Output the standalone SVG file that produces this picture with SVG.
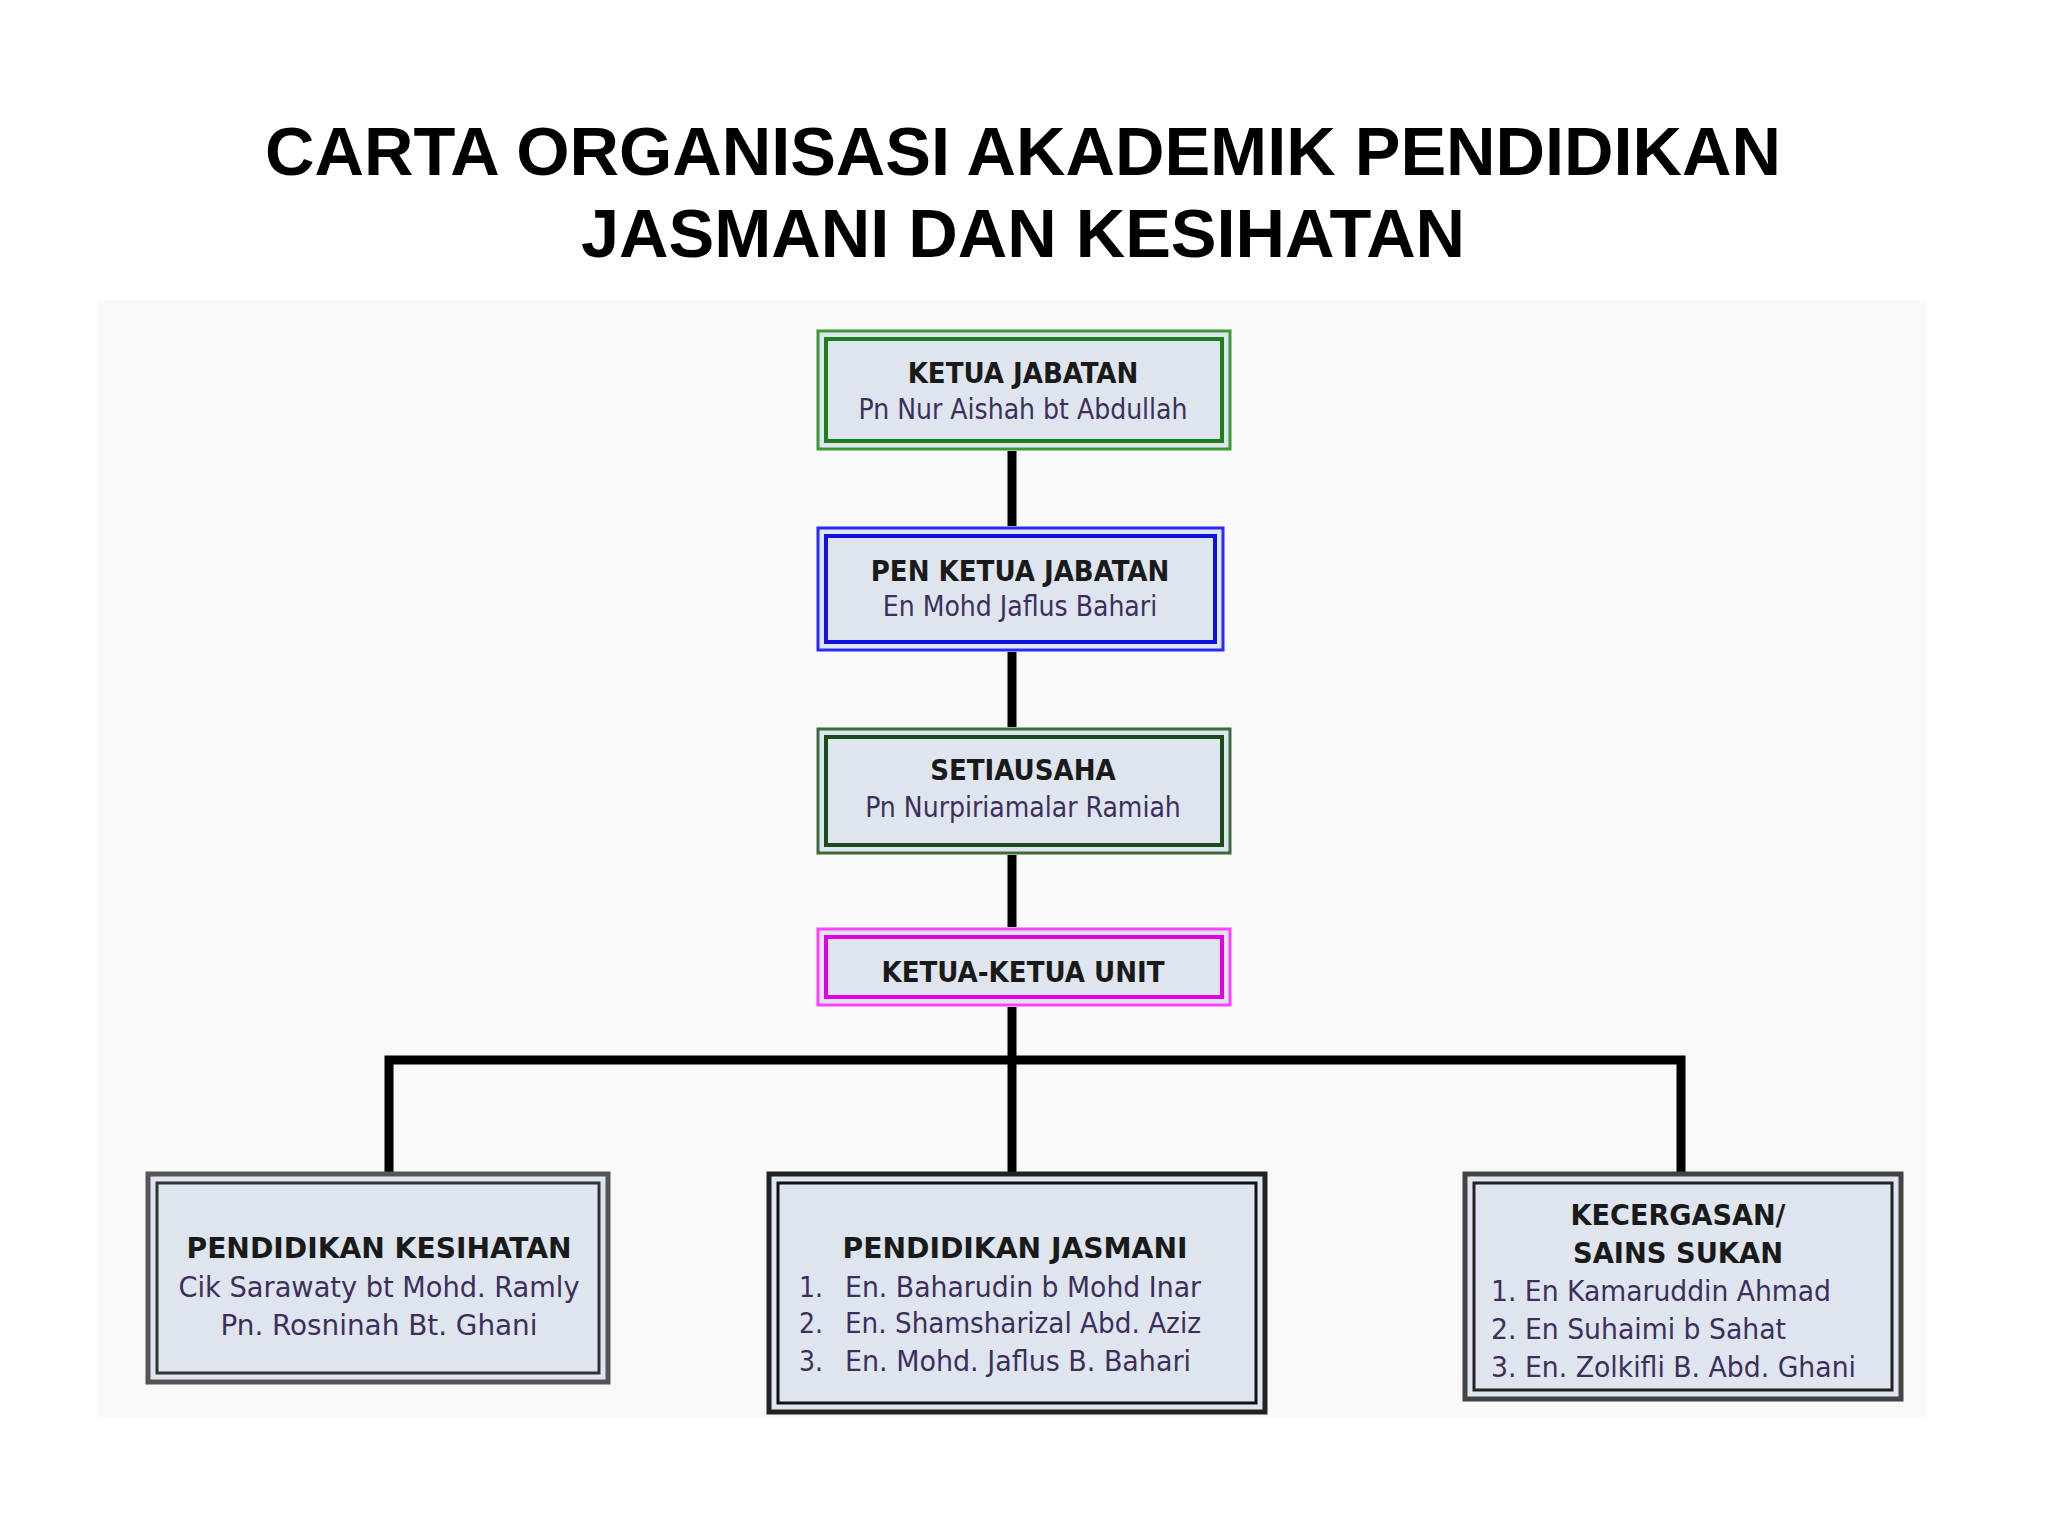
<svg xmlns="http://www.w3.org/2000/svg" width="2048" height="1536" viewBox="0 0 2048 1536">
<style>
.title{font-family:"Liberation Sans",Arial,sans-serif;font-weight:bold;font-size:68.5px;fill:#000;text-anchor:middle}
.h{font-family:"DejaVu Sans Condensed","DejaVu Sans",sans-serif;font-weight:bold;font-size:29px;fill:#1a1a1a;text-anchor:middle}
.n{font-family:"DejaVu Sans Condensed","DejaVu Sans",sans-serif;font-size:28px;fill:#3d2f5c;text-anchor:middle}
.s{font-family:"DejaVu Sans Condensed","DejaVu Sans",sans-serif;font-size:28px;fill:#3d2f5c}
.fill{fill:#dfe5ee}
.conn{stroke:#000;stroke-width:9;fill:none}
</style>
<rect width="2048" height="1536" fill="#fff"/>
<rect x="98" y="300" width="1828" height="1117" fill="#f9f9f9"/>
<text class="title" x="1023" y="175">CARTA ORGANISASI AKADEMIK PENDIDIKAN</text>
<text class="title" x="1023" y="257">JASMANI DAN KESIHATAN</text>
<g id="connectors">
<path class="conn" d="M1012 451V526M1012 652V727M1012 855V927M1012 1007V1172M389 1172V1060H1681V1172"/>
</g>
<g id="n1">
<rect x="818" y="331" width="412" height="118" class="fill" stroke="#3a9a3a" stroke-width="3"/>
<rect x="826" y="339" width="396" height="102" fill="none" stroke="#1e7e1e" stroke-width="4"/>
<text class="h" x="1023" y="383">KETUA JABATAN</text>
<text class="n" x="1023" y="419">Pn Nur Aishah bt  Abdullah</text>
</g>
<g id="n2">
<rect x="818" y="528" width="405" height="122" class="fill" stroke="#2a2aff" stroke-width="3"/>
<rect x="826" y="536" width="389" height="106" fill="none" stroke="#1010e0" stroke-width="4"/>
<text class="h" x="1020" y="581">PEN KETUA JABATAN</text>
<text class="n" x="1020" y="616">En Mohd Jaflus Bahari</text>
</g>
<g id="n3">
<rect x="818" y="729" width="412" height="124" class="fill" stroke="#3c6a3c" stroke-width="3"/>
<rect x="826" y="737" width="396" height="108" fill="none" stroke="#1c4a1c" stroke-width="4"/>
<text class="h" x="1023" y="780">SETIAUSAHA</text>
<text class="n" x="1023" y="817">Pn Nurpiriamalar Ramiah</text>
</g>
<g id="n4">
<rect x="818" y="929" width="412" height="76" class="fill" stroke="#ff40ff" stroke-width="3"/>
<rect x="826" y="937" width="396" height="60" fill="none" stroke="#e000e0" stroke-width="4"/>
<text class="h" x="1023" y="982">KETUA-KETUA UNIT</text>
</g>
<g id="n5">
<rect x="148" y="1174" width="460" height="208" class="fill" stroke="#555" stroke-width="5"/>
<rect x="157" y="1183" width="442" height="190" fill="none" stroke="#333" stroke-width="3"/>
<text class="h" x="379" y="1258" textLength="385" lengthAdjust="spacingAndGlyphs">PENDIDIKAN KESIHATAN</text>
<text class="n" x="379" y="1297" textLength="401" lengthAdjust="spacingAndGlyphs">Cik Sarawaty bt Mohd. Ramly</text>
<text class="n" x="379" y="1335" textLength="317" lengthAdjust="spacingAndGlyphs">Pn. Rosninah Bt. Ghani</text>
</g>
<g id="n6">
<rect x="769" y="1174" width="496" height="238" class="fill" stroke="#222" stroke-width="5"/>
<rect x="778" y="1183" width="478" height="220" fill="none" stroke="#111" stroke-width="3"/>
<text class="h" x="1015" y="1258" textLength="345" lengthAdjust="spacingAndGlyphs">PENDIDIKAN JASMANI</text>
<text class="s" x="799" y="1297">1.</text><text class="s" x="845" y="1297" textLength="356" lengthAdjust="spacingAndGlyphs">En. Baharudin b Mohd Inar</text>
<text class="s" x="799" y="1333">2.</text><text class="s" x="845" y="1333" textLength="356" lengthAdjust="spacingAndGlyphs">En. Shamsharizal Abd. Aziz</text>
<text class="s" x="799" y="1371">3.</text><text class="s" x="845" y="1371" textLength="346" lengthAdjust="spacingAndGlyphs">En. Mohd. Jaflus B. Bahari</text>
</g>
<g id="n7">
<rect x="1465" y="1174" width="436" height="225" class="fill" stroke="#444" stroke-width="5"/>
<rect x="1474" y="1183" width="418" height="207" fill="none" stroke="#222" stroke-width="3"/>
<text class="h" x="1678" y="1225" textLength="215" lengthAdjust="spacingAndGlyphs">KECERGASAN/</text>
<text class="h" x="1678" y="1263" textLength="210" lengthAdjust="spacingAndGlyphs">SAINS SUKAN</text>
<text class="s" x="1491" y="1301" textLength="340" lengthAdjust="spacingAndGlyphs">1. En Kamaruddin Ahmad</text>
<text class="s" x="1491" y="1339" textLength="295" lengthAdjust="spacingAndGlyphs">2. En Suhaimi b Sahat</text>
<text class="s" x="1491" y="1377" textLength="365" lengthAdjust="spacingAndGlyphs">3. En. Zolkifli B. Abd. Ghani</text>
</g>
</svg>
